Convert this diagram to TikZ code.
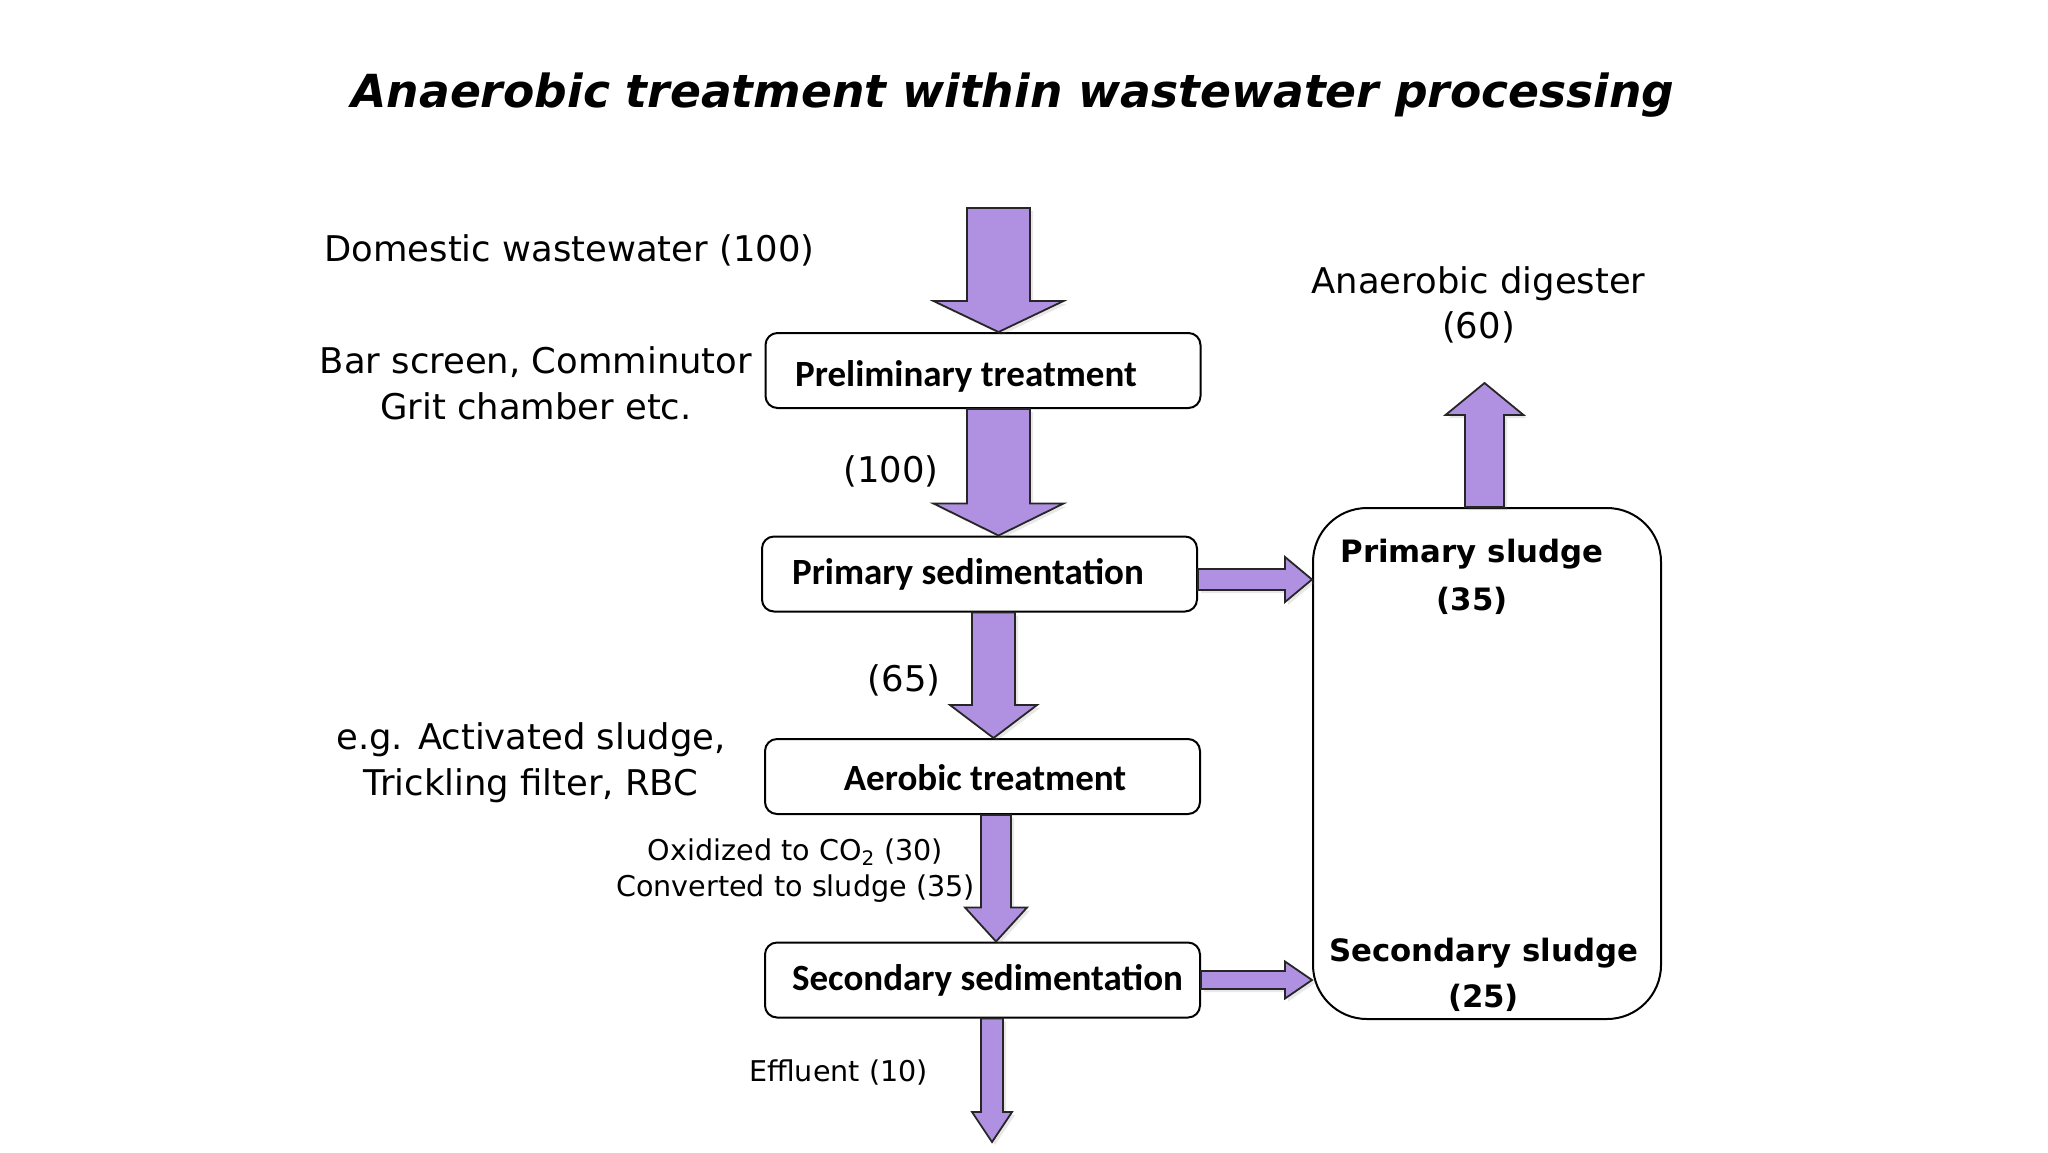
\documentclass[tikz,border=0pt]{standalone}
\usepackage{fontspec}
\setmainfont{DejaVu Sans}
\newfontfamily\calfont{Carlito}
\usetikzlibrary{calc,shadows}
\definecolor{lav}{RGB}{176,145,225}
\tikzset{
  box/.style={draw=black, line width=1pt, fill=white, rounded corners=6pt,
    minimum width=217.5pt, minimum height=37.5pt, inner sep=0pt,
    font=\calfont\bfseries\fontsize{18.5pt}{22pt}\selectfont},
  bigbox/.style={draw=black, line width=1pt, fill=white, rounded corners=27pt,
    minimum width=174pt, minimum height=255.5pt, inner sep=0pt},
  fat/.style={draw=black!85, line width=0.9pt, fill=lav, line join=miter,
    drop shadow={opacity=0.18, shadow xshift=1.5pt, shadow yshift=-1.5pt}},
  comic/.style={font=\fontsize{17.7pt}{23pt}\selectfont, align=center, inner sep=0pt},
  smalltxt/.style={font=\fontsize{14.3pt}{18pt}\selectfont, align=center, inner sep=0pt},
  sludgetxt/.style={font=\bfseries\fontsize{15.4pt}{24pt}\selectfont, align=center, inner sep=0pt},
  titletxt/.style={font=\bfseries\itshape\fontsize{22.8pt}{27pt}\selectfont, inner sep=0pt}
}
% shift a box text horizontally (#1) and vertically (#2)
\newcommand\shifttext[3]{\raisebox{#2}[\height][\depth]{\hspace*{#1}#3\hspace*{-#1}}}
% #1 start, #2 tip, #3 half shaft, #4 half head, #5 head length
\newcommand\downfat[5]{\draw[fat] let \p1=#1, \p2=#2 in
  (\x1-#3,\y1) -- (\x1+#3,\y1) -- (\x1+#3,\y2+#5) -- (\x1+#4,\y2+#5) -- (\x1,\y2)
  -- (\x1-#4,\y2+#5) -- (\x1-#3,\y2+#5) -- cycle;}
\newcommand\upfat[5]{\draw[fat] let \p1=#1, \p2=#2 in
  (\x1-#3,\y1) -- (\x1+#3,\y1) -- (\x1+#3,\y2-#5) -- (\x1+#4,\y2-#5) -- (\x1,\y2)
  -- (\x1-#4,\y2-#5) -- (\x1-#3,\y2-#5) -- cycle;}
\newcommand\rightfat[5]{\draw[fat] let \p1=#1, \p2=#2 in
  (\x1,\y1-#3) -- (\x1,\y1+#3) -- (\x2-#5,\y1+#3) -- (\x2-#5,\y1+#4) -- (\x2,\y1)
  -- (\x2-#5,\y1-#4) -- (\x2-#5,\y1-#3) -- cycle;}
\begin{document}
\begin{tikzpicture}[x=0.5pt,y=-0.5pt]
\path[use as bounding box, fill=white] (0,0) rectangle (2048,1152);

\node[titletxt] (title) at (1013,95) {Anaerobic treatment within wastewater processing};

% boxes
\node[box] (prelim) at (983,370.5) {\shifttext{-8.5pt}{-3pt}{Preliminary treatment}};
\node[box] (psed) at (979.5,574) {\shifttext{-5.75pt}{0pt}{Primary sedimentation}};
\node[box] (aero) at (982.5,776.5) {\shifttext{1.25pt}{-0.5pt}{Aerobic treatment}};
\node[box] (sec) at (982.5,980) {\shifttext{2.5pt}{0pt}{Secondary sedimentation}};
\node[bigbox] (sludge) at (1487,763.5) {};

% free ends
\coordinate (src) at (998.5,208);
\coordinate (dig) at (1484.5,383);
\coordinate (eff) at (992,1142);

% block arrows
\downfat{(src)}{(prelim.north)}{15.75pt}{32.5pt}{15.5pt}
\downfat{(prelim.south -| src)}{(psed.north)}{15.75pt}{32.5pt}{16pt}
\downfat{([xshift=7pt]psed.south)}{(aero.north)}{10.75pt}{21.75pt}{16.5pt}
\downfat{([xshift=6.75pt]aero.south)}{(sec.north)}{7.5pt}{15.5pt}{17pt}
\downfat{(sec.south -| eff)}{(eff)}{5.5pt}{10pt}{15pt}
\rightfat{([yshift=-2.75pt]psed.east)}{(sludge.west)}{5.25pt}{11.25pt}{13.5pt}
\rightfat{(sec.east)}{(sludge.west)}{4.5pt}{9.25pt}{13.5pt}
\upfat{(sludge.north -| dig)}{(dig)}{9.75pt}{19.5pt}{16pt}

% labels
\node[comic] (dom) at (569.5,250) {Domestic wastewater (100)};
\node[comic] (bar) at (536,383) {Bar screen, Comminutor\\Grit chamber etc.};
\node[comic] (q100) at (891,471) {(100)};
\node[comic] (q65) at (904,680) {(65)};
\node[comic] (eg) at (531,763) {e.g. Activated sludge,\\Trickling filter, RBC};
\node[smalltxt] (ox) at (795.5,871) {Oxidized to CO\textsubscript{2} (30)\\Converted to sludge (35)};
\node[smalltxt] (efl) at (838.5,1072) {Effluent (10)};
\node[comic, font=\fontsize{17.7pt}{22.5pt}\selectfont] (digl) at (1478.5,305) {Anaerobic digester\\(60)};
\node[sludgetxt] (ps) at (1472,577) {Primary sludge\\(35)};
\node[sludgetxt, font=\bfseries\fontsize{15.4pt}{23pt}\selectfont] (ss) at (1483.5,975) {Secondary sludge\\(25)};
\end{tikzpicture}
\end{document}
